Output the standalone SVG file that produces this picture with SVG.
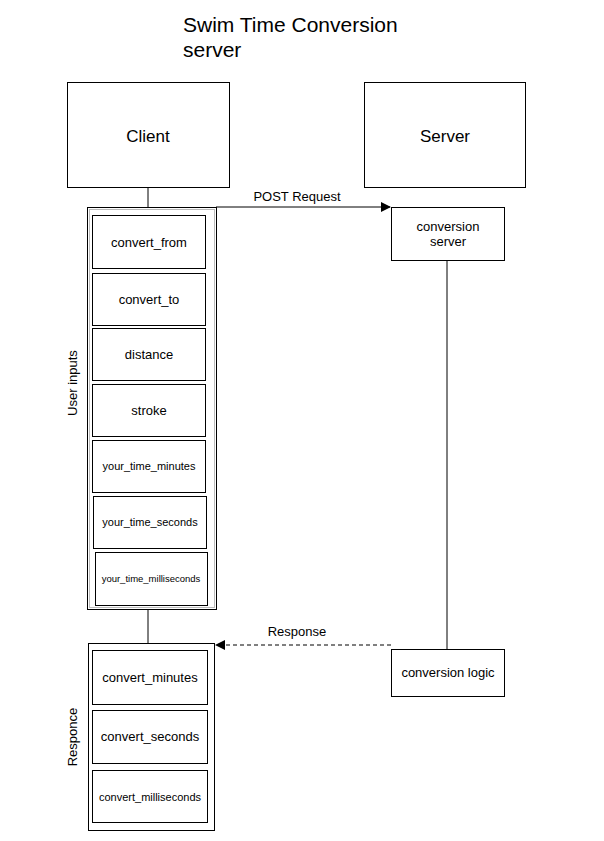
<svg xmlns="http://www.w3.org/2000/svg" width="604" height="841" viewBox="0 0 604 841">
<style>
text{font-family:"Liberation Sans",Arial,sans-serif;fill:#000}
.b{fill:#fff;stroke:#000;stroke-width:1}
.g{fill:none;stroke:#bbb;stroke-width:1}
.l{stroke:#000;stroke-width:1;fill:none}
.t{font-size:13px;text-anchor:middle}
.s{font-size:11px}
.xs{font-size:9.5px}
</style>
<defs><marker id="ah" markerWidth="10" markerHeight="10" refX="9" refY="5" orient="auto" markerUnits="userSpaceOnUse"><path d="M0,0 L10,5 L0,10 z" fill="#000"/></marker></defs>
<rect width="604" height="841" fill="#fff"/>
<text x="183" y="32" font-size="21">Swim Time Conversion</text>
<text x="183" y="57" font-size="21">server</text>
<g id="connectors">
<line class="l" x1="148" y1="187" x2="148" y2="207"/>
<line class="l" x1="148" y1="609" x2="148" y2="643"/>
<line class="l" x1="447" y1="260" x2="447" y2="649"/>
<line class="l" x1="216" y1="207" x2="390" y2="207" marker-end="url(#ah)"/>
<text x="297" y="201" class="t">POST Request</text>
<line class="l" x1="391" y1="645" x2="216" y2="645" stroke-dasharray="4,3" marker-end="url(#ah)"/>
<text x="297" y="636" class="t">Response</text>
</g>
<g id="client"><rect class="b" x="67.5" y="82.5" width="162" height="105"/><text x="148" y="142" font-size="17" text-anchor="middle">Client</text></g>
<g id="server"><rect class="b" x="364.5" y="82.5" width="161" height="105"/><text x="445" y="142" font-size="17" text-anchor="middle">Server</text></g>
<g id="user-inputs"><rect class="b" x="87.5" y="207.5" width="129" height="402"/><rect class="g" x="89.5" y="209.5" width="125" height="398"/>
<text transform="translate(77,383) rotate(-90)" class="t">User inputs</text></g>
<g id="convert_from"><rect class="b" x="92.5" y="215.5" width="113" height="53"/><text x="149" y="247" class="t">convert_from</text></g>
<g id="convert_to"><rect class="b" x="92.5" y="273.5" width="113" height="52"/><text x="149" y="304" class="t">convert_to</text></g>
<g id="distance"><rect class="b" x="92.5" y="328.5" width="113" height="52"/><text x="149" y="359" class="t">distance</text></g>
<g id="stroke"><rect class="b" x="92.5" y="384.5" width="113" height="52"/><text x="149" y="415" class="t">stroke</text></g>
<g id="your_time_minutes"><rect class="b" x="92.5" y="440.5" width="113" height="52"/><text x="149" y="470" class="t s">your_time_minutes</text></g>
<g id="your_time_seconds"><rect class="b" x="93.5" y="496.5" width="113" height="52"/><text x="150" y="526" class="t s">your_time_seconds</text></g>
<g id="your_time_milliseconds"><rect class="b" x="95.5" y="552.5" width="112" height="53"/><text x="151" y="582" class="t xs">your_time_milliseconds</text></g>
<g id="conversion-server"><rect class="b" x="391.5" y="207.5" width="113" height="53"/><text x="448" y="231" class="t">conversion</text><text x="448" y="246" class="t">server</text></g>
<g id="conversion-logic"><rect class="b" x="391.5" y="649.5" width="113" height="47"/><text x="448" y="677" class="t">conversion logic</text></g>
<g id="responce"><rect class="b" x="88.5" y="643.5" width="126" height="187"/>
<text transform="translate(77,737) rotate(-90)" class="t">Responce</text></g>
<g id="convert_minutes"><rect class="b" x="92.5" y="650.5" width="115" height="54"/><text x="150" y="682" class="t">convert_minutes</text></g>
<g id="convert_seconds"><rect class="b" x="92.5" y="710.5" width="115" height="53"/><text x="150" y="741" class="t">convert_seconds</text></g>
<g id="convert_milliseconds"><rect class="b" x="92.5" y="770.5" width="115" height="52"/><text x="150" y="801" class="t s">convert_milliseconds</text></g>
</svg>
